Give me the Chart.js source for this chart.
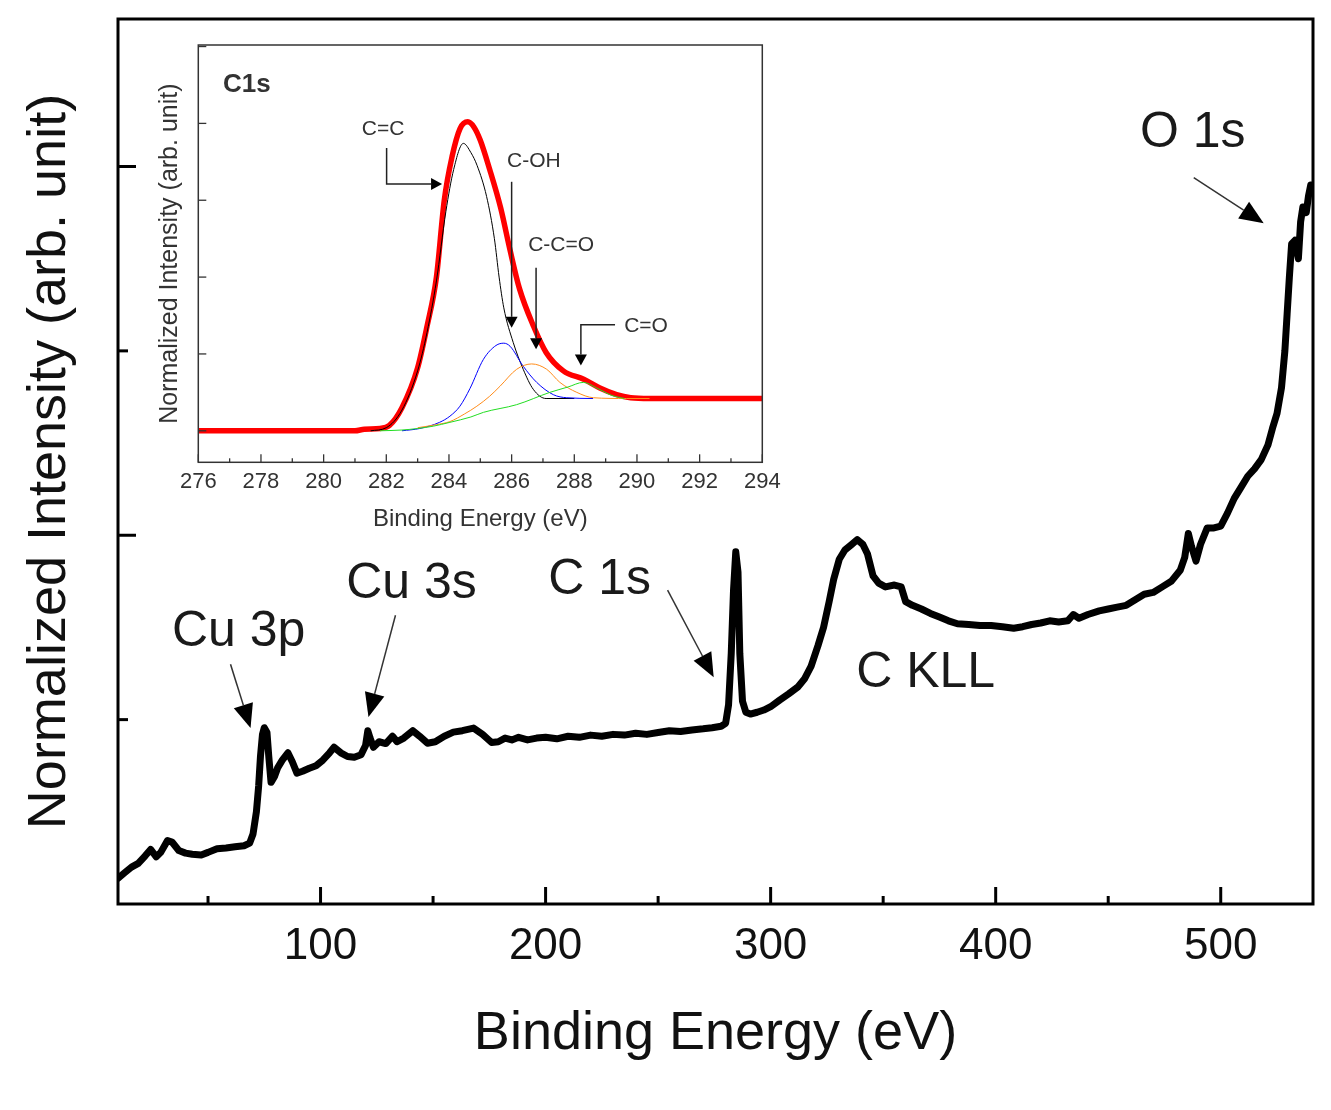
<!DOCTYPE html>
<html>
<head>
<meta charset="utf-8">
<script src="https://cdn.jsdelivr.net/npm/chart.js@4.4.1/dist/chart.umd.min.js"></script>
<style>
  html, body { margin: 0; padding: 0; background: #fff; }
  #wrap { position: relative; width: 1331px; height: 1110px; }
  #main { position: absolute; left: 0; top: 0; }
  #inset { position: absolute; left: 150px; top: 30px; }
</style>
</head>
<body>
<div id="wrap">
  <canvas id="main" width="1331" height="1110"></canvas>
  <canvas id="inset" width="640" height="520"></canvas>
</div>
<script>
// survey spectrum (main plot)
const surveyEnergy = [10, 13, 16, 19, 22, 24.5, 27, 29, 32, 34, 37, 40, 43, 47, 50, 54, 58, 62, 66, 68.5,
  70, 71.5, 72.5, 73.3, 74.2, 75, 76.2, 77, 78, 79.5, 81, 83, 85.5, 87.5, 89.5, 92, 95, 98, 101, 104,
  106, 109, 112, 115, 118, 120, 121, 122, 123.5, 126, 129, 132, 134, 137, 141, 144, 147.5, 151, 155, 159,
  163, 168, 172, 176, 179, 182, 185, 188, 192, 196, 200, 205, 210, 215, 220, 225, 230, 235, 240, 245,
  250, 255, 260, 265, 270, 274, 278, 280, 281.3, 282.5, 283.5, 284.5, 285.5, 286.3, 287.5, 289, 291, 294, 297, 300,
  304, 308, 312, 315, 318, 321, 323.5, 326, 328, 330.5, 333, 336, 338.5, 341, 343, 345.5, 348, 351, 355, 358,
  360, 363, 367, 371, 375, 379, 383, 388, 393, 398, 403, 408, 412, 416, 420, 424, 428, 432, 434.5, 437,
  441, 446, 450, 454, 458, 462, 466, 470, 474, 478, 482, 484, 485.6, 487, 489, 491, 494, 497, 500, 503,
  506, 509, 512, 515, 518, 521, 523, 525, 527, 528.5, 529.5, 530.5, 531.5, 533, 534.5, 535.5, 536.5, 538, 539, 540];
const surveyIntensity = [0.07, 0.085, 0.10, 0.11, 0.13, 0.148, 0.128, 0.14, 0.172, 0.168, 0.145, 0.138, 0.135, 0.133, 0.14, 0.15, 0.152, 0.155, 0.158, 0.165,
  0.19, 0.25, 0.32, 0.40, 0.46, 0.478, 0.465, 0.40, 0.33, 0.345, 0.37, 0.39, 0.41, 0.385, 0.355, 0.36, 0.368, 0.375, 0.39, 0.41,
  0.425, 0.41, 0.40, 0.398, 0.405, 0.43, 0.47, 0.45, 0.425, 0.44, 0.435, 0.455, 0.44, 0.45, 0.47, 0.455, 0.436, 0.44, 0.455, 0.466,
  0.47, 0.477, 0.46, 0.438, 0.44, 0.45, 0.445, 0.452, 0.445, 0.45, 0.452, 0.448, 0.455, 0.452, 0.458, 0.455, 0.46, 0.458, 0.463, 0.46,
  0.465, 0.47, 0.468, 0.472, 0.475, 0.478, 0.482, 0.49, 0.54, 0.68, 0.85, 0.955, 0.90, 0.68, 0.55, 0.52, 0.515, 0.52, 0.526, 0.535,
  0.553, 0.57, 0.588, 0.61, 0.645, 0.70, 0.75, 0.82, 0.88, 0.935, 0.96, 0.975, 0.988, 0.975, 0.95, 0.89, 0.87, 0.86, 0.865, 0.86,
  0.82, 0.81, 0.80, 0.788, 0.778, 0.768, 0.76, 0.758, 0.755, 0.755, 0.752, 0.748, 0.752, 0.758, 0.762, 0.768, 0.765, 0.768, 0.785, 0.775,
  0.785, 0.795, 0.80, 0.805, 0.81, 0.825, 0.84, 0.845, 0.86, 0.875, 0.905, 0.94, 1.005, 0.97, 0.93, 0.975, 1.02, 1.02, 1.025, 1.06,
  1.10, 1.13, 1.16, 1.18, 1.205, 1.245, 1.29, 1.33, 1.40, 1.50, 1.60, 1.70, 1.79, 1.80, 1.75, 1.85, 1.89, 1.875, 1.92, 1.95];

// C1s high resolution (inset): envelope and fitted components
const envEnergy = [276, 278, 280, 281, 281.3, 281.8, 282.1, 282.5, 283.0, 283.3, 283.6, 283.85, 284.1, 284.35, 284.6, 284.8,
  285.0, 285.3, 285.65, 285.95, 286.25, 286.7, 287.1, 287.65, 288.3, 288.8, 289.35, 289.8, 290.4, 292, 294];
const envIntensity = [0, 0, 0, 0, 0.02, 0.03, 0.07, 0.30, 0.82, 1.36, 2.0, 3.0, 3.57, 3.93, 4.02, 3.95,
  3.78, 3.40, 2.90, 2.35, 1.85, 1.36, 1.02, 0.78, 0.67, 0.56, 0.47, 0.43, 0.42, 0.42, 0.42];
const ccEnergy = [281.5, 282, 282.5, 283, 283.3, 283.6, 283.9, 284.15, 284.46, 284.7, 284.9, 285.2, 285.45, 285.6, 285.75, 286.05, 286.37, 286.69, 287.1, 288];
const ccIntensity = [0, 0.04, 0.27, 0.78, 1.28, 1.95, 2.85, 3.4, 3.74, 3.62, 3.45, 3.05, 2.5, 2.0, 1.6, 1.15, 0.80, 0.54, 0.42, 0.42];
const cohEnergy = [282.5, 283.07, 283.7, 284.03, 284.35, 284.67, 285.1, 285.5, 285.75, 285.95, 286.37, 286.8, 287.33, 287.76, 288.6];
const cohIntensity = [0, 0.03, 0.11, 0.19, 0.32, 0.55, 0.93, 1.11, 1.14, 1.10, 0.84, 0.63, 0.47, 0.43, 0.42];
const ccoEnergy = [283.0, 283.6, 284.03, 284.5, 284.89, 285.3, 285.63, 286.16, 286.64, 287.12, 287.54, 288.08, 288.61, 289.67, 290.4];
const ccoIntensity = [0.04, 0.08, 0.12, 0.22, 0.32, 0.45, 0.58, 0.80, 0.87, 0.80, 0.63, 0.50, 0.43, 0.42, 0.42];
const coEnergy = [281.8, 282.5, 283.0, 283.5, 284.03, 284.7, 285.1, 286.16, 287.22, 287.8, 288.29, 288.7, 289.2, 289.6];
const coIntensity = [0, 0.01, 0.03, 0.06, 0.11, 0.18, 0.24, 0.34, 0.50, 0.57, 0.63, 0.56, 0.46, 0.42];

// tick positions
const mainXTicks = [100, 200, 300, 400, 500];
const mainXMinor = [50, 150, 250, 350, 450];
const mainYMajor = [1, 2];
const mainYMinor = [0.5, 1.5];
const insetXTicks = [276, 278, 280, 282, 284, 286, 288, 290, 292, 294];
const insetXMinor = [277, 279, 281, 283, 285, 287, 289, 291, 293];
const insetYTicks = [0, 1, 2, 3, 4, 5];

Chart.defaults.font.family = "'Liberation Sans', Arial, sans-serif";
Chart.defaults.color = '#111';

const toPoints = (xs, ys) => xs.map((x, i) => ({ x: x, y: ys[i] }));

// box + inward ticks
const framePlugin = {
  id: 'frame',
  afterDatasetsDraw(chart, args, o) {
    const { ctx, chartArea: a, scales } = chart;
    ctx.save();
    ctx.strokeStyle = o.color;
    ctx.lineWidth = o.width;
    ctx.strokeRect(a.left, a.top, a.right - a.left, a.bottom - a.top);
    ctx.lineWidth = o.tickWidth;
    const tick = (vals, len, isX) => vals.forEach(v => {
      ctx.beginPath();
      if (isX) {
        const p = scales.x.getPixelForValue(v);
        ctx.moveTo(p, a.bottom); ctx.lineTo(p, a.bottom - len);
      } else {
        const p = scales.y.getPixelForValue(v);
        ctx.moveTo(a.left, p); ctx.lineTo(a.left + len, p);
      }
      ctx.stroke();
    });
    tick(o.xMajor, o.majorLen, true);
    tick(o.xMinor, o.minorLen, true);
    tick(o.yMajor, o.yMajorLen || o.majorLen, false);
    tick(o.yMinor, o.yMinorLen || o.minorLen, false);
    ctx.restore();
  }
};

// text labels and arrows, placed in data coordinates
const notePlugin = {
  id: 'notes',
  afterDatasetsDraw(chart, args, o) {
    const { ctx, scales: { x, y } } = chart;
    ctx.save();
    (o.arrows || []).forEach(ar => {
      const pts = ar.map(p => [x.getPixelForValue(p[0]), y.getPixelForValue(p[1])]);
      const n = pts.length;
      const [tx, ty] = pts[n - 1];
      const [px, py] = pts[n - 2];
      const ang = Math.atan2(ty - py, tx - px);
      const bx = tx - o.headLen * Math.cos(ang), by = ty - o.headLen * Math.sin(ang);
      ctx.strokeStyle = o.arrowColor;
      ctx.lineWidth = o.arrowWidth;
      ctx.beginPath();
      ctx.moveTo(pts[0][0], pts[0][1]);
      for (let i = 1; i < n - 1; i++) ctx.lineTo(pts[i][0], pts[i][1]);
      ctx.lineTo(bx, by);
      ctx.stroke();
      const nx = -Math.sin(ang) * o.headHalf, ny = Math.cos(ang) * o.headHalf;
      ctx.fillStyle = '#000';
      ctx.beginPath();
      ctx.moveTo(tx, ty);
      ctx.lineTo(bx + nx, by + ny);
      ctx.lineTo(bx - nx, by - ny);
      ctx.closePath();
      ctx.fill();
    });
    (o.labels || []).forEach(l => {
      ctx.font = l.font || o.font;
      ctx.fillStyle = o.textColor;
      ctx.textAlign = l.align || 'center';
      ctx.textBaseline = l.baseline || 'middle';
      ctx.fillText(l.text, x.getPixelForValue(l.x), y.getPixelForValue(l.y));
    });
    ctx.restore();
  }
};

// main survey chart
new Chart(document.getElementById('main'), {
  type: 'line',
  data: {
    datasets: [{
      data: toPoints(surveyEnergy, surveyIntensity),
      borderColor: '#000',
      borderWidth: 7,
      pointRadius: 0,
      tension: 0,
      borderJoinStyle: 'round',
      borderCapStyle: 'round'
    }]
  },
  options: {
    responsive: false,
    animation: false,
    devicePixelRatio: 1,
    layout: { padding: { top: 19, right: 18, left: 0, bottom: 0 } },
    plugins: {
      legend: { display: false },
      tooltip: { enabled: false },
      frame: {
        color: '#000', width: 3, tickWidth: 3, majorLen: 17, minorLen: 8, yMajorLen: 18, yMinorLen: 10,
        xMajor: mainXTicks, xMinor: mainXMinor, yMajor: mainYMajor, yMinor: mainYMinor
      },
      notes: {
        font: "50px 'Liberation Sans', Arial, sans-serif",
        textColor: '#1a1a1a',
        arrowColor: '#333', arrowWidth: 1.5, headLen: 24, headHalf: 10,
        labels: [
          { text: 'Cu 3p', x: 63.6, y: 0.737 },
          { text: 'Cu 3s', x: 140.4, y: 0.867 },
          { text: 'C 1s', x: 224, y: 0.878 },
          { text: 'C KLL', x: 368.9, y: 0.626 },
          { text: 'O 1s', x: 487.6, y: 2.089 }
        ],
        arrows: [
          [[60, 0.650], [68.9, 0.477]],
          [[133.3, 0.783], [121.3, 0.507]],
          [[254.2, 0.851], [274.7, 0.615]],
          [[488, 1.970], [519.1, 1.846]]
        ]
      }
    },
    scales: {
      x: {
        type: 'linear', min: 10, max: 541,
        grid: { display: false, drawTicks: false },
        border: { display: false },
        ticks: { font: { size: 44 }, color: '#111', padding: 16, maxRotation: 0 },
        afterBuildTicks: axis => { axis.ticks = mainXTicks.map(v => ({ value: v })); },
        afterFit: s => { s.height = 206; },
        title: { display: true, text: 'Binding Energy (eV)', font: { size: 54 }, color: '#111', padding: { top: 0, bottom: 43 } }
      },
      y: {
        type: 'linear', min: 0, max: 2.4,
        grid: { display: false, drawTicks: false },
        border: { display: false },
        ticks: { display: false },
        afterFit: s => { s.width = 118; },
        title: { display: true, text: 'Normalized Intensity (arb. unit)', font: { size: 54 }, color: '#111', padding: { top: 18, bottom: 0 } }
      }
    }
  },
  plugins: [framePlugin, notePlugin]
});

// inset C1s chart
const thin = (data, color) => ({
  data: data, borderColor: color, borderWidth: 1, pointRadius: 0,
  cubicInterpolationMode: 'monotone'
});

new Chart(document.getElementById('inset'), {
  type: 'line',
  data: {
    datasets: [
      thin(toPoints(coEnergy, coIntensity), '#22dd22'),
      thin(toPoints(ccoEnergy, ccoIntensity), '#ff8c1a'),
      thin(toPoints(cohEnergy, cohIntensity), '#0000ff'),
      thin(toPoints(ccEnergy, ccIntensity), '#000000'),
      {
        data: toPoints(envEnergy, envIntensity),
        borderColor: '#ff0000', borderWidth: 5.5, pointRadius: 0,
        cubicInterpolationMode: 'monotone', borderJoinStyle: 'round'
      }
    ]
  },
  options: {
    responsive: false,
    animation: false,
    devicePixelRatio: 1,
    layout: { padding: { top: 15, right: 27.7, left: 0, bottom: 0 } },
    plugins: {
      legend: { display: false },
      tooltip: { enabled: false },
      frame: {
        color: '#333', width: 1.5, tickWidth: 1.3, majorLen: 8, minorLen: 4,
        xMajor: insetXTicks, xMinor: insetXMinor, yMajor: insetYTicks, yMinor: []
      },
      notes: {
        font: "21px 'Liberation Sans', Arial, sans-serif",
        textColor: '#333',
        arrowColor: '#222', arrowWidth: 1.5, headLen: 11, headHalf: 6,
        labels: [
          { text: 'C1s', x: 276.79, y: 4.41, align: 'left', baseline: 'alphabetic', font: "bold 26px 'Liberation Sans', Arial, sans-serif" },
          { text: 'C=C', x: 281.9, y: 3.92 },
          { text: 'C-OH', x: 286.71, y: 3.51 },
          { text: 'C-C=O', x: 287.58, y: 2.42 },
          { text: 'C=O', x: 290.29, y: 1.36 }
        ],
        arrows: [
          [[282.01, 3.68], [282.01, 3.21], [283.78, 3.21]],
          [[286.0, 3.24], [286.0, 1.34]],
          [[286.78, 2.12], [286.78, 1.06]],
          [[289.3, 1.38], [288.21, 1.38], [288.21, 0.85]]
        ]
      }
    },
    scales: {
      x: {
        type: 'linear', min: 276, max: 294,
        grid: { display: false, drawTicks: false },
        border: { display: false },
        ticks: { font: { size: 22 }, color: '#333', padding: 6, maxRotation: 0 },
        afterBuildTicks: axis => { axis.ticks = insetXTicks.map(v => ({ value: v })); },
        afterFit: s => { s.height = 87.7; },
        title: { display: true, text: 'Binding Energy (eV)', font: { size: 24 }, color: '#333', padding: { top: 0, bottom: 16 } }
      },
      y: {
        type: 'linear', min: -0.41, max: 5.02,
        grid: { display: false, drawTicks: false },
        border: { display: false },
        ticks: { display: false },
        afterFit: s => { s.width = 48.3; },
        title: { display: true, text: 'Normalized Intensity (arb. unit)', font: { size: 25 }, color: '#333', padding: { top: 5, bottom: 0 } }
      }
    }
  },
  plugins: [framePlugin, notePlugin]
});
</script>
</body>
</html>
